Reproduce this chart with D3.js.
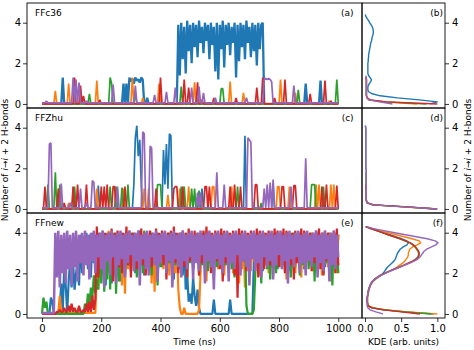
<!DOCTYPE html>
<html><head><meta charset="utf-8">
<script src="https://cdn.jsdelivr.net/npm/d3@7"></script>
<style>body{margin:0;background:#fff} svg{display:block} text{font-family:"DejaVu Sans",sans-serif}</style>
</head><body><svg id="c" width="474" height="350"></svg>
<script>
// ---------- data ----------
const timeNs = d3.range(0, 1001, 5); // sampling grid, 5 ns
const seriesColors = ["#1f77b4","#ff7f0e","#2ca02c","#d62728","#9467bd"];
const panelNames = ["FFc36","FFZhu","FFnew"];
const tsTags = ["(a)","(c)","(e)"];
const kdeTags = ["(b)","(d)","(f)"];
const yTicks = [0,2,4];
const timeTicks = [0,200,400,600,800,1000];
const kdeTicks = [0,0.5,1.0];
const kdeY = [0,0.1,0.2,0.3,0.4,0.5,0.6,0.7,0.8,0.9,
 1.0,1.1,1.2,1.3,1.4,1.5,1.6,1.7,1.8,1.9,
 2.0,2.1,2.2,2.3,2.4,2.5,2.6,2.7,2.8,2.9,
 3.0,3.1,3.2,3.3,3.4,3.5,3.6,3.7,3.8,3.9,
 4.0,4.1,4.2,4.3,4.4];

// FFc36
const a_blue = [
0,0,0,0,0,0,0,0,0,0,0,0,0,0,1.3,0,0,0,0,0,
0,0,0,0,0,0,0,0,0,0,0,0,0,0,0,0,0,0,0,0,
0,0,0,0,0,0,0,0,0,0,0,0,0,0,0,1.0,0,1.0,0,1.3,
1.1,1.25,1.0,1.3,1.15,1.2,1.05,1.3,1.2,0,0,0.3,0,0,0,0,0,0,0,0,
0,0,0,0,0,0,0,0,0,0,0,0,3.9,1.4,4.0,2.2,3.8,1.5,4.1,2.6,
3.9,2.0,4.0,2.8,3.9,2.3,4.1,3.0,3.8,2.5,4.0,3.1,3.9,2.2,4.0,2.9,3.8,1.6,4.0,1.2,
3.9,2.7,4.1,1.8,3.9,2.9,4.0,2.4,3.8,3.0,4.0,1.3,3.9,2.1,4.0,2.8,3.9,2.2,4.1,3.0,
3.8,2.3,4.0,2.6,3.9,1.9,4.0,2.7,3.9,4.0,0,0,0,0,0,0,0,0,0,0,
0,0,0,0,0,0,0,0,0,0,0,0,0,0,0,0,0,0,1.0,0,
0,0,0,0,0,0,0,0,1.15,0,0,0,0,0,0,0,0,0,0,0,
0];
const a_orange = [
0,0,0,0,0,0,0,0,0,0.65,0,0,0,0,0,0,0,0,1.0,0,
0,0,0,0,0,0,0,0,0,0,0,0,0,0,0,0,0,1.15,0,0,
0,0,0,0,0,0,0,0,0,0,0,0,0,0,0,0,0,0,0,0,
0,1.3,0,0,0,0,0,0,0.3,0,0,0,0,0,0,0,0,0,0,1.0,
0,0,0,0,0,0,0,0,0,0,0,0,0,0,0,0,0,0,0,0,
0,0,0,1.07,0,0,0,0,0,0,0,0,0,0,0,0,0,0,0,0,
0,0,0,0,0,0,0,1.1,0,0,0,0,0,0,0,0,0.55,0,0,0,
0,0,0,0,0,0,0,0,0,0,0,0,0,0,0,0,0,0,0,0,
0,1.2,0,0,0,0,0,0,0,0,0,0.55,0,0,0,0,0,0,0,0,
0,0,0,0,0,0,0,0,0,0,0,0,0,0,0.15,0,0,0,0,0,
0];
const a_green = [
0,0,0,0,0,0,0,0,0,0,0,0,0,0,0,0,0,0,0,0,
0,0,0,0,0,0,0,0,0,0,0,0,0.5,0,0,0,0,0,0,0,
0,0,0,0,0,0,1.3,1.0,0,0,0,0,0,0,0,0,0,0,0,0,
0,0,0,0.6,0,0,0,0,0,0,0,0,0,0,0,0,0,0,0,0,
0,0,0,0,0,0,0,0,0,0,0,0,0,0,0.85,0,0,0,0,0,
0,0,0,0,0,0,0,0,0,0,0,0,0,0,0,0,0,0,0,0,
0,0.75,0.75,0,0,0,0,0,0,0,0,0,0,0,0,0,0,0,0,0,
0,0,0,0,0,0,0,0,0,0,0,0,0,0,0,0,0,0,0,0,
0,0,0,0,0,0,0,0,0,0,0,0,0,0.7,0,0,0,0,0,0,
0,0,0,0,0,0,0,0,0,0,0,0,0,0,0,0,0,0,0,1.2,
0];
const a_red = [
0,0,0,0,0,0,0,0,0,0,0,0,0,0,0,0,0,0,0,0,
0,0,1.3,0,0,0,0.9,0,0.4,0,0,0,0,0,0,0,0,0,0,0.2,
0,0,0,0,0,0,0,0,0,0,0,0,0,0,0,0,0,0,0,0,
0,0,0,0,0,0,0,0,0,0,0,0,0,0,0,0,0,0,0,0,
1.3,0,0,0,0,0,0,0,0,0,0,0,0,0,0,0,1.2,0,0,0.8,
0,0,0,0,0,1.07,0,0,0.2,0,0,0,0,0,0,0,0.3,0,0,0,
0,0,0,0,0,0,0,0,0,0,0,0.3,0,0,0,0,0,0,0,0,
0,0,0,0,0,0.8,0,0,0,1.3,0,0,0,0,0,0,0,0.3,0,0,
0,0,0,0,1.2,0,0,0,0,0,0,0,0,0,0,0,0,0,0,0,
0,0.5,0,0,0,0,0,0,0,0,0,1.15,0,0,0,0.15,0,0,0,0,
0];
const a_purple = [
0.05,0.05,0.05,0.15,0.05,0.05,0.05,0.05,0.05,0.05,0.05,0.05,0.05,0.05,0.05,0.05,0.05,0.05,0.05,0.05,
0.05,1.3,0.05,1.2,0.05,1.05,0.05,0.05,0.05,0.05,0.15,0.05,0.05,0.05,0.05,0.05,0.05,0.05,0.05,0.05,
0.05,0.05,0.05,0.05,0.05,0.05,0.05,0.05,0.95,0.05,0.05,0.05,0.05,0.05,0.05,0.05,0.05,0.05,0.05,0.05,
0.05,0.05,0.05,0.9,0.05,0.05,0.05,0.05,0.05,0.05,0.05,0.05,0.05,0.05,0.05,0.05,0.45,0.05,0.05,0.05,
0.05,0.05,0.05,0.05,0.6,0.05,0.05,0.05,0.05,0.05,0.8,0.05,0.05,0.05,0.05,0.05,0.05,0.05,0.05,0.05,
0.05,0.8,0.05,0.05,0.05,0.05,0.85,0.05,0.05,0.55,0.05,0.05,0.05,0.05,0.05,0.05,0.05,0.3,0.05,0.05,
0.05,0.05,0.05,0.05,0.05,0.05,0.05,0.05,0.05,0.05,0.05,0.05,0.05,0.05,0.05,0.05,0.05,0.05,0.3,0.05,
0.05,0.05,0.05,0.05,0.05,0.05,0.05,0.05,0.05,0.05,1.2,1.25,1.2,1.25,1.2,1.1,0.05,0.05,0.05,0.05,
0.05,0.05,0.05,0.05,0.05,0.05,0.05,0.05,0.05,0.05,0.9,0.05,0.05,0.05,0.05,0.05,0.05,0.05,0.05,0.05,
0.05,0.05,0.05,0.05,0.05,0.05,0.05,0.05,0.05,0.05,0.05,0.05,0.05,0.05,0.05,0.05,0.05,0.05,0.05,0.05,
0.05];

// FFZhu
const c_blue = [
0,0,0,0,0,0,0,0,0,0,0,0,0,0,0,0,0,0,0,0,
0,0,0,0,0,0,0,0,0,0,0,0,0,0,0,0,0,0,1.15,0,
0,0,0,0,0,0,0,0,0,0,0,0,0,0,0,0,0,0,0,0,
0,0,1.2,3.5,4.1,2.6,3.4,1.2,0,0,0,0,0,0,0,0,0,0,0,0,
0,0,2.9,1.2,3.2,1.0,3.7,3.6,0,0,0,0,0,0,0,0,0,0,0,0,
0,0,0,0,0,0,0,0,1.0,0,0,0,0,0,0,0,0,0,0,0,
0,0,0,0,0,0,0,0,0,0,0,0,0,0,0,0,0,3.6,0,0,
0,0,0,0,0,0,0,0,0,0,0,0,0,0,0,0,1.2,0,0,0,
0,0,0,0,0,0,0,0,0,0,0,0,0,0,0,0,0,0,0,0,
0,0,0,0,0,0,0,0,0,0,0,0,0,0,0,0,0,0,0,0,
0];
const c_orange = [
0,0,0,0,0,0,0,0,0,0,0,0,0,0,0,0,0,0,0.3,0,
0,0,0,0,0,0,0,0,0,0,0,0,0,0,0,0,0,1.0,0,0,
0,0,0,0,0,0,0,0,0,0,0,0,0,0,0,1.0,0,0,0,0,
0,0,0,0,0,0,0,0,0,1.0,0,0,1.0,0,0,0,0,0,0,0,
0,0,0,0,0,0.7,0,0,0,0,0,0,0,1.0,0,0,0,0,0,1.1,
0,0,0,0,0,0,0,0,0,0,0,0,0,0,0,1.1,1.1,0,0,0,
0,0,0,0,0,0,0,0,1.1,0,0,0,0,0,0,0,0,0,0,0,
0,0,0,0,0,0,0,0,0,0,0,0,0,0,0,0,0,0,0,1.1,
1.1,0,0,0,0,0,0,1.1,0,0,0,0,0,0,0,0,0,0,0,0,
0,0,0,0,0,1.2,0,1.2,0,0,0,0,0,0,0,1.2,0,1.2,0,0,
0];
const c_green = [
0,0,0,0,1.2,0,0,0,0,1.8,0,0,1.2,0,0,0,0,0,0,0,
0,0,1.1,0,0,0,0,0,0,0,0,0,0,0,0,0,0,0,0,0,
0,0,0,0,0,0,1.1,0,0,0,1.1,0,0,0,1.05,0,0,0,1.2,0,
0,0,0,0,0,0,0,0,0,0,0,0,0,0,0,0,0,0,1.2,1.2,
1.2,0,0,0,0,0,0,0,0,0,0,0,0,0,1.1,0,1.1,0,0,0,
0,1.0,0,1.0,0,0,0.9,0,0,0,0,0,0,0,0,0,0,0,0,0,
0,0,0,0,0,0,0,0,0,0,0,0,1.1,0,0,0,0,0,0,0,
0,0,0,0,0,0,0,0,0.3,0,0,0,0,0,0,0,0,0,0,0,
0,0,0,0,0,0,0,0,0,0,0,0,0,0,0,0,0,0,0,0,
0,0,1.2,1.2,1.2,0,0,0,0,0,1.1,0,0,0,0,0,0,0,0,0,
0];
const c_red = [
0,0,1.1,0,0,0,0,0,0,0,0,1.0,0,0,0,0.3,0,0,0,0,
0,1.1,0,0,1.2,0,0,0,0,0,1.2,0,0,0,0,0,0,0,0,0,
1.1,0,1.1,0,1.2,0,0,0,1.1,1.1,0,0,0,0,0,0,1.1,0,0,0,
0,0,0,0,0,0,0,0,0,0,0,0,0,0,0,0,0,1.0,0,0,
0,0,0,0,0,0,0,0,0,1.0,1.1,1.1,0,0,0,1.1,0,0,0,0,
0,0,0,0,0,0,0,0,0,0,1.1,1.1,0,1.1,0,0,0,0,0,0,
0,0,0,0,0,0,0,1.1,0,0,1.2,0,0,0,1.1,0,0,0,0,0,
0,0,0,0,1.2,1.2,0,0,0,0,0,0,0,0,0,0,0,0,0,0,
0,0,1.1,1.1,0,0,0,0,0,0,1.15,1.15,0,0,0,0,0,0,0,0,
0,0,0,0,0,0,0,0,0,1.1,0,0,1.2,0,0,0,0,0,0,1.15,
0];
const c_purple = [
0.05,0.05,0.05,0.05,0.05,3.2,3.25,0.05,0.05,0.05,0.05,0.05,0.05,1.25,0.05,0.05,0.05,0.05,0.05,0.3,
0.05,0.05,0.05,0.05,0.05,0.05,1.0,0.05,0.05,0.05,0.3,0.05,0.05,0.05,1.4,1.3,0.05,0.05,0.05,0.05,
0.05,0.05,0.05,0.05,0.05,0.05,0.05,0.05,0.05,0.05,0.05,1.1,0.05,0.05,0.05,0.05,0.05,0.05,0.05,0.05,
0.05,0.05,0.05,0.05,0.05,0.05,0.05,0.05,3.8,3.7,0.05,0.05,0.05,3.1,3.0,0.05,0.05,0.05,0.05,0.05,
0.05,0.05,0.05,0.05,0.05,0.05,0.05,0.05,0.05,0.05,0.05,0.05,0.05,0.05,0.05,0.05,0.05,0.05,0.05,0.05,
0.05,0.05,0.05,0.05,0.05,0.8,0.05,0.8,0.05,0.05,0.05,0.05,0.05,0.05,0.05,0.05,0.05,0.05,1.8,0.05,
0.05,0.05,0.05,1.2,0.05,0.05,0.05,0.05,0.05,0.05,0.05,0.05,0.05,0.05,0.05,0.05,0.05,0.05,0.05,3.5,
3.4,3.3,0.05,0.05,0.05,0.05,0.05,0.05,0.05,0.05,1.0,0.05,1.2,0.05,1.3,0.05,1.45,0.05,0.05,0.05,
0.05,0.05,0.05,0.05,0.05,0.05,0.05,0.05,1.1,0.05,0.05,0.05,0.05,0.05,0.05,0.05,0.05,0.05,2.5,0.05,
0.05,0.05,0.05,0.05,0.05,0.05,0.05,0.05,0.05,0.05,0.05,0.05,0.05,0.05,0.05,0.05,0.05,0.05,0.05,0.05,
0.05];

// FFnew
const e_blue = [
0,0,0,0,0,0,0.8,0.6,0,0,0,0,0.3,1.5,0.2,2.2,1.4,0.1,1.6,2.6,
1.3,2.5,1.2,2.0,2.6,1.4,3.9,2.0,3.8,2.6,4.0,2.2,3.9,1.8,4.0,2.5,3.9,1.7,4.0,2.9,
3.9,2.4,4.0,1.4,3.8,2.6,4.0,1.5,3.9,2.8,4.0,2.2,3.9,1.6,4.0,2.7,3.9,2.3,4.0,2.5,
3.8,2.9,4.0,2.0,3.9,2.6,4.1,2.4,3.9,1.9,4.0,2.7,3.8,2.2,4.0,2.8,3.9,1.8,4.0,2.6,
3.9,2.3,4.0,2.9,3.8,2.1,4.0,2.6,3.9,1.7,4.0,2.5,3.9,2.2,4.0,1.9,3.8,1.2,2.0,0.6,
1.0,0.5,1.8,0.9,0.4,1.2,0.3,0,0,0,0,0,0,0,0,0,0.7,0,0,0,
0,0,0,0,0,0,0,0.7,0,0,0,0,0,0,0,0,0,0,0,0,
0,0,0,2.5,3.9,2.4,4.0,2.8,3.9,2.1,4.0,2.6,3.8,2.9,4.0,2.3,3.9,2.7,4.0,2.2,
3.9,2.8,4.0,2.4,3.8,2.9,4.0,2.1,3.9,2.6,4.0,2.3,3.9,2.8,4.0,2.5,3.8,2.2,4.0,2.7,
3.9,2.4,4.0,2.9,3.8,2.2,4.0,2.6,3.9,2.8,4.0,2.3,3.9,2.5,4.0,2.7,3.8,2.4,4.0,2.6,
3.9];
const e_orange = [
0,0,0,0,0,0,0,0,0,0,0.05,0.05,0.9,0.05,0.05,0.05,0.05,0.05,0.05,0.05,
0.05,0.05,0.05,0.05,0.05,0.05,0.05,0.05,0.05,0.05,0.05,0.05,0.05,0.05,0.05,0.05,0.05,2.0,1.2,3.9,
2.3,4.0,1.8,3.9,2.6,4.1,2.0,3.8,2.4,4.0,1.9,3.9,2.5,4.0,1.4,3.9,1.0,4.0,2.2,3.9,
2.6,4.0,2.1,3.9,2.8,4.0,2.3,3.8,2.5,4.0,2.0,3.9,2.7,4.0,1.5,3.9,1.1,4.0,1.6,3.8,
2.4,4.0,2.2,3.9,2.6,4.0,1.9,3.9,2.5,4.0,2.0,3.8,1.2,0.3,0,0,0.3,0,0,0,
0,0,0,0,0,0,0.2,2.0,3.9,2.4,4.0,1.6,3.9,2.5,4.0,2.1,3.8,2.6,4.0,2.2,
3.9,2.7,4.0,1.9,3.8,2.4,4.0,2.6,3.9,2.0,4.0,2.5,3.9,1.5,4.0,2.2,3.9,1.3,4.0,2.4,
3.9,2.1,4.0,2.6,3.8,2.3,4.0,1.9,3.9,2.7,4.0,2.4,3.9,2.0,4.0,2.6,3.8,2.2,4.0,2.5,
3.9,2.3,4.0,2.7,3.9,1.7,4.0,2.4,3.8,2.6,4.0,2.0,3.9,2.5,4.0,1.8,3.9,2.3,4.0,2.6,
3.8,2.4,4.0,2.1,3.9,2.6,4.0,2.2,3.9,1.9,4.0,2.5,3.8,2.3,4.0,1.6,3.9,2.4,4.0,2.0,
3.9];
const e_green = [
0,0.8,0.3,0.6,0,0,0,0,0,0,0,0,0,0,0,0,0,0,0,0,
0,0,0,0,0,0,0,0,0,0.5,0.2,1.0,0.4,1.3,0.8,1.9,1.0,1.7,1.2,3.9,
1.5,4.0,1.1,3.9,1.7,4.0,1.2,3.8,1.8,4.0,1.0,3.9,1.6,4.0,2.2,3.9,1.9,4.0,2.4,3.8,
2.1,4.0,2.6,3.9,1.8,4.0,2.5,3.9,2.0,4.1,2.7,3.8,2.2,4.0,1.9,3.9,2.6,4.0,1.4,3.9,
2.3,4.0,2.7,3.8,2.0,4.0,2.5,3.9,1.6,4.0,2.4,3.9,2.8,4.0,2.1,3.8,2.6,4.0,1.8,3.9,
2.5,4.0,2.2,3.9,2.7,4.0,1.9,3.8,2.4,4.0,2.6,3.9,2.1,4.0,2.5,3.9,1.7,4.0,2.3,3.8,
2.6,4.0,2.0,3.9,2.4,4.0,2.7,3.8,2.2,4.0,1.8,3.9,2.5,4.0,2.3,3.9,2.6,4.0,0.4,0,
0,0,0,0.2,2.0,4.0,2.4,3.9,1.5,4.0,2.6,3.8,2.2,4.0,1.7,3.9,2.5,4.0,2.0,3.9,
2.4,4.0,2.7,3.8,2.1,4.0,2.5,3.9,1.8,4.0,2.3,3.9,2.6,4.0,1.9,3.8,2.4,4.0,2.7,3.9,
2.2,4.0,2.5,3.9,1.6,4.0,2.4,3.8,2.6,4.0,2.0,3.9,2.5,4.0,2.2,3.9,1.4,4.0,2.3,3.9,
2.0];
const e_red = [
0,0,0,0,0,0,0,0,0,0,0.1,0.1,0.2,0.1,0.1,0.3,0.1,0.1,0.4,0.1,
0.5,0.1,0.3,0.1,0.1,0.4,0.1,0.1,0.2,0.1,0.5,0.1,0.6,0.1,0.9,0.2,0.7,4.3,1.8,4.0,
2.5,4.1,1.9,4.0,2.7,4.0,2.2,4.2,1.6,4.0,2.8,4.1,2.3,4.0,2.0,4.0,2.6,4.3,2.4,4.1,
1.8,4.0,2.6,4.0,2.2,4.1,2.9,4.2,2.4,4.0,1.9,4.0,2.7,4.1,2.3,4.0,2.5,4.2,2.1,4.0,
2.8,4.1,2.4,4.0,1.7,4.0,2.6,4.1,2.2,4.3,2.5,4.0,2.0,4.0,2.7,4.1,2.3,4.0,1.8,4.2,
2.6,4.0,2.2,4.1,2.8,4.0,1.9,4.0,2.5,4.1,2.3,4.3,2.7,4.0,2.0,4.0,2.4,4.1,2.6,4.0,
2.2,4.2,1.6,4.1,2.5,4.0,2.3,4.0,2.7,4.1,1.9,4.0,0.8,4.2,2.4,4.1,2.6,4.0,2.1,4.0,
2.5,4.1,2.8,4.0,2.3,4.2,1.8,4.1,2.6,4.0,2.2,4.0,2.7,4.1,2.4,4.0,1.9,4.2,2.5,4.1,
2.3,4.0,2.6,4.2,2.0,4.1,2.7,4.0,2.4,4.0,1.7,4.1,2.5,4.0,2.2,4.2,2.8,4.1,2.3,4.0,
2.6,4.0,2.1,4.0,2.5,4.1,2.8,4.2,2.2,4.0,1.9,4.1,2.6,4.0,2.3,4.0,2.5,4.1,2.0,4.2,
2.4];
const e_purple = [
0.05,0.05,0.05,0.05,0.05,0.05,0.05,0.05,0.05,4.0,1.8,4.1,1.3,3.9,2.0,4.0,1.5,4.1,2.2,3.9,
1.4,4.0,2.3,4.1,1.6,3.9,2.5,4.0,1.9,4.1,2.4,3.9,1.7,4.0,2.6,4.1,2.0,3.9,2.8,4.0,
2.2,4.1,1.3,3.9,2.6,4.0,1.9,4.1,2.8,3.9,1.5,4.0,2.4,4.1,2.7,3.9,1.8,4.0,2.5,4.1,
2.9,3.9,2.1,4.0,2.6,4.1,1.4,3.9,2.7,4.0,2.2,4.1,1.9,3.9,2.8,4.0,2.4,4.1,1.6,3.9,
2.5,4.0,2.9,4.1,2.0,3.9,2.6,4.0,1.3,4.1,2.7,3.9,2.3,4.0,1.8,4.1,2.6,3.9,2.2,4.0,
2.8,4.1,1.7,3.9,2.5,4.0,2.1,4.1,2.9,3.9,1.5,4.0,2.6,4.1,2.3,3.9,1.2,4.0,2.7,4.1,
2.4,3.9,2.0,4.0,2.8,4.1,1.6,3.9,2.5,4.0,2.2,4.1,2.9,3.9,1.9,4.0,2.6,4.1,2.3,3.9,
1.4,4.0,2.7,4.1,2.1,3.9,2.5,4.0,1.8,4.1,2.8,3.9,2.3,4.0,2.6,4.1,1.7,3.9,2.4,4.0,
2.9,4.1,2.2,3.9,2.6,4.0,1.5,4.1,2.7,3.9,2.3,4.0,2.8,4.1,2.0,3.9,2.5,4.0,1.9,4.1,
2.6,3.9,2.3,4.0,2.8,4.1,1.8,3.9,2.5,4.0,2.1,4.1,2.7,3.9,1.6,4.0,2.4,4.1,2.2,3.9,
2.8];

// KDE (x = density, sampled at kdeY)
const b_kde_blue = [0.9,1.0,0.75,0.45,0.21,0.1,0.05,0.04,0.04,0.045,
 0.06,0.08,0.09,0.07,0.05,0.04,0.04,0.04,0.04,0.04,
 0.04,0.045,0.045,0.05,0.05,0.055,0.06,0.065,0.07,0.075,
 0.08,0.09,0.095,0.1,0.11,0.115,0.115,0.11,0.1,0.085,
 0.065,0.05,0.03,0.015,0.003];
const b_kde_orange = [0.72,0.25,0.06,0.03,0.02,0.02,0.02,0.02,0.02,0.02,0.02,0.02,0.02,0.01];
const b_kde_green = [0.85,0.28,0.06,0.03,0.02,0.02,0.02,0.02,0.02,0.02,0.02,0.02,0.02,0.01];
const b_kde_red = [1.0,0.3,0.07,0.03,0.02,0.02,0.02,0.02,0.02,0.02,0.02,0.02,0.02,0.01];
const b_kde_purple = [0.38,0.2,0.05,0.03,0.02,0.02,0.02,0.02,0.02,0.02,0.02,0.02,0.02,0.02,0.01];

const d_kde_blue = [0.98,0.55,0.11,0.03,0.02,0.018,0.018,0.018,0.018,0.018,
 0.018,0.018,0.018,0.018,0.018,0.018,0.018,0.018,0.018,0.018,
 0.012,0.012,0.012,0.012,0.012,0.012,0.012,0.012,0.012,0.012,
 0.012,0.012,0.012,0.012,0.012,0.012,0.012,0.012,0.012,0.012,
 0.01,0.005];
const d_kde_orange = [0.97,0.52,0.1,0.03,0.02,0.018,0.018,0.018,0.018,0.018,0.015,0.015,0.01];
const d_kde_green = [0.99,0.56,0.11,0.03,0.02,0.018,0.018,0.018,0.018,0.018,0.015,0.015,0.015,0.015,0.015,0.015,0.015,0.015,0.01];
const d_kde_red = [1.0,0.6,0.13,0.035,0.02,0.018,0.018,0.018,0.018,0.018,0.015,0.015,0.01];
const d_kde_purple = [1.0,0.55,0.11,0.03,0.02,0.018,0.018,0.018,0.018,0.018,
 0.018,0.018,0.018,0.018,0.018,0.018,0.018,0.018,0.018,0.018,
 0.012,0.012,0.012,0.012,0.012,0.012,0.012,0.012,0.012,0.012,
 0.012,0.012,0.012,0.012,0.012,0.012,0.012,0.012,0.012,0.012,
 0.01,0.005];

const f_kde_blue = [0.95,0.55,0.25,0.1,0.05,0.04,0.035,0.035,0.035,0.04,
 0.045,0.05,0.055,0.065,0.075,0.09,0.11,0.14,0.18,0.22,
 0.25,0.27,0.29,0.31,0.34,0.37,0.4,0.42,0.43,0.44,
 0.45,0.47,0.49,0.53,0.58,0.6,0.58,0.51,0.42,0.34,
 0.25,0.17,0.08,0.01];
const f_kde_orange = [1.0,0.6,0.3,0.12,0.05,0.04,0.035,0.035,0.035,0.04,
 0.045,0.05,0.055,0.065,0.075,0.09,0.11,0.14,0.18,0.22,
 0.27,0.34,0.4,0.44,0.48,0.52,0.55,0.57,0.59,0.6,
 0.6,0.61,0.62,0.66,0.72,0.77,0.75,0.65,0.54,0.43,
 0.32,0.21,0.1,0.02];
const f_kde_green = [0.92,0.55,0.28,0.1,0.04,0.035,0.03,0.03,0.03,0.035,
 0.04,0.045,0.05,0.06,0.07,0.085,0.1,0.13,0.17,0.21,
 0.27,0.33,0.4,0.47,0.54,0.6,0.66,0.7,0.73,0.74,
 0.74,0.73,0.71,0.69,0.66,0.62,0.55,0.48,0.4,0.32,
 0.24,0.16,0.08,0.01];
const f_kde_red = [0.76,0.5,0.26,0.1,0.04,0.035,0.03,0.03,0.03,0.035,
 0.04,0.045,0.05,0.06,0.07,0.085,0.1,0.13,0.17,0.21,
 0.27,0.33,0.4,0.47,0.54,0.6,0.66,0.71,0.74,0.75,
 0.75,0.74,0.72,0.7,0.67,0.63,0.56,0.49,0.41,0.32,
 0.24,0.16,0.08,0.01];
const f_kde_purple = [0.25,0.15,0.07,0.04,0.03,0.03,0.03,0.03,0.03,0.035,
 0.04,0.045,0.05,0.06,0.07,0.08,0.1,0.13,0.17,0.22,
 0.28,0.34,0.41,0.48,0.55,0.62,0.68,0.73,0.76,0.78,
 0.8,0.82,0.86,0.92,0.98,1.01,0.97,0.86,0.71,0.56,
 0.41,0.26,0.12,0.02];

// ---------- drawing ----------
const panels = [
  {name: panelNames[0], tag: tsTags[0], ktag: kdeTags[0], lw: [2.3,1.7,1.7,1.7,1.7],
   ts: [a_blue, a_orange, a_green, a_red, a_purple],
   kde: [b_kde_blue, b_kde_orange, b_kde_green, b_kde_red, b_kde_purple]},
  {name: panelNames[1], tag: tsTags[1], ktag: kdeTags[1], lw: [1.7,1.7,1.7,1.7,1.7],
   ts: [c_blue, c_orange, c_green, c_red, c_purple],
   kde: [d_kde_blue, d_kde_orange, d_kde_green, d_kde_red, d_kde_purple]},
  {name: panelNames[2], tag: tsTags[2], ktag: kdeTags[2], lw: [2.2,2.2,2.2,2.2,2.5],
   ts: [e_blue, e_orange, e_green, e_red, e_purple],
   kde: [f_kde_blue, f_kde_orange, f_kde_green, f_kde_red, f_kde_purple]}
];

const svg = d3.select("#c");
const X0 = 27, X1 = 362, X2 = 445, TOP = 3, ROWH = 105;
const x = d3.scaleLinear().domain([-50.6, 1080]).range([X0, X1]);
const k = d3.scaleLinear().domain([-0.041, 1.106]).range([X1, X2]);
const defs = svg.append("defs");
const FONT = "DejaVu Sans";

function styleAxis(g) {
  g.select(".domain").remove();
  g.attr("font-family", FONT).attr("font-size", 10);
  g.selectAll(".tick line").attr("stroke", "#000").attr("stroke-width", 0.8);
  g.selectAll(".tick text").attr("fill", "#000");
}

panels.forEach((p, r) => {
  const y0 = TOP + r * ROWH, y1 = y0 + ROWH;
  const y = d3.scaleLinear().domain([-0.2, 4.97]).range([y1, y0]);

  defs.append("clipPath").attr("id", "cl" + r).append("rect")
    .attr("x", X0).attr("y", y0).attr("width", X1 - X0).attr("height", ROWH);
  defs.append("clipPath").attr("id", "ck" + r).append("rect")
    .attr("x", X1).attr("y", y0).attr("width", X2 - X1).attr("height", ROWH);

  const line = d3.line().x((d, i) => x(timeNs[i])).y(d => y(d));
  const gl = svg.append("g").attr("clip-path", `url(#cl${r})`);
  p.ts.forEach((s, i) => {
    gl.append("path").attr("d", line(s)).attr("fill", "none")
      .attr("stroke", seriesColors[i]).attr("stroke-width", p.lw[i])
      .attr("stroke-linejoin", "bevel");
  });

  const kline = d3.line().x(d => k(d)).y((d, i) => y(kdeY[i]));
  const gk = svg.append("g").attr("clip-path", `url(#ck${r})`);
  p.kde.forEach((s, i) => {
    gk.append("path").attr("d", kline(s)).attr("fill", "none")
      .attr("stroke", seriesColors[i]).attr("stroke-width", 1.4)
      .attr("stroke-linejoin", "round");
  });

  // axes
  svg.append("g").attr("transform", `translate(${X0},0)`)
    .call(d3.axisLeft(y).tickValues(yTicks).tickSize(4).tickPadding(2).tickFormat(d3.format("d")))
    .call(styleAxis);
  svg.append("g").attr("transform", `translate(${X2},0)`)
    .call(d3.axisRight(y).tickValues(yTicks).tickSize(4).tickPadding(3).tickFormat(d3.format("d")))
    .call(styleAxis);
  if (r === 2) {
    svg.append("g").attr("transform", `translate(0,${y1})`)
      .call(d3.axisBottom(x).tickValues(timeTicks).tickSize(4).tickPadding(3).tickFormat(d3.format("d")))
      .call(styleAxis);
    svg.append("g").attr("transform", `translate(0,${y1})`)
      .call(d3.axisBottom(k).tickValues(kdeTicks).tickSize(4).tickPadding(3).tickFormat(d3.format(".1f")))
      .call(styleAxis);
  }

  // frames
  svg.append("rect").attr("x", X0).attr("y", y0).attr("width", X1 - X0).attr("height", ROWH)
    .attr("fill", "none").attr("stroke", "#000").attr("stroke-width", 0.9);
  svg.append("rect").attr("x", X1).attr("y", y0).attr("width", X2 - X1).attr("height", ROWH)
    .attr("fill", "none").attr("stroke", "#000").attr("stroke-width", 0.9);

  // labels
  svg.append("text").attr("x", X0 + 8).attr("y", y0 + 13).attr("font-size", 9).text(p.name);
  svg.append("text").attr("x", X0 + 0.975 * (X1 - X0)).attr("y", y0 + 13)
    .attr("font-size", 9).attr("text-anchor", "end").text(p.tag);
  svg.append("text").attr("x", X1 + 0.975 * (X2 - X1)).attr("y", y0 + 13)
    .attr("font-size", 9).attr("text-anchor", "end").text(p.ktag);
});

// axis titles
svg.append("text").attr("x", (X0 + X1) / 2).attr("y", 345).attr("text-anchor", "middle")
  .attr("font-size", 9).text("Time (ns)");
svg.append("text").attr("x", (X1 + X2) / 2).attr("y", 345).attr("text-anchor", "middle")
  .attr("font-size", 9).text("KDE (arb. units)");

function yLabel(xpos) {
  const t = svg.append("text").attr("transform", `translate(${xpos},160) rotate(-90)`)
    .attr("text-anchor", "middle").attr("font-size", 9);
  t.append("tspan").text("Number of ");
  t.append("tspan").attr("font-style", "italic").text("i");
  t.append("tspan").text("→");
  t.append("tspan").attr("font-style", "italic").text("i");
  t.append("tspan").text(" + 2 H-bonds");
}
yLabel(8);
yLabel(470.5);
</script>
</body></html>
